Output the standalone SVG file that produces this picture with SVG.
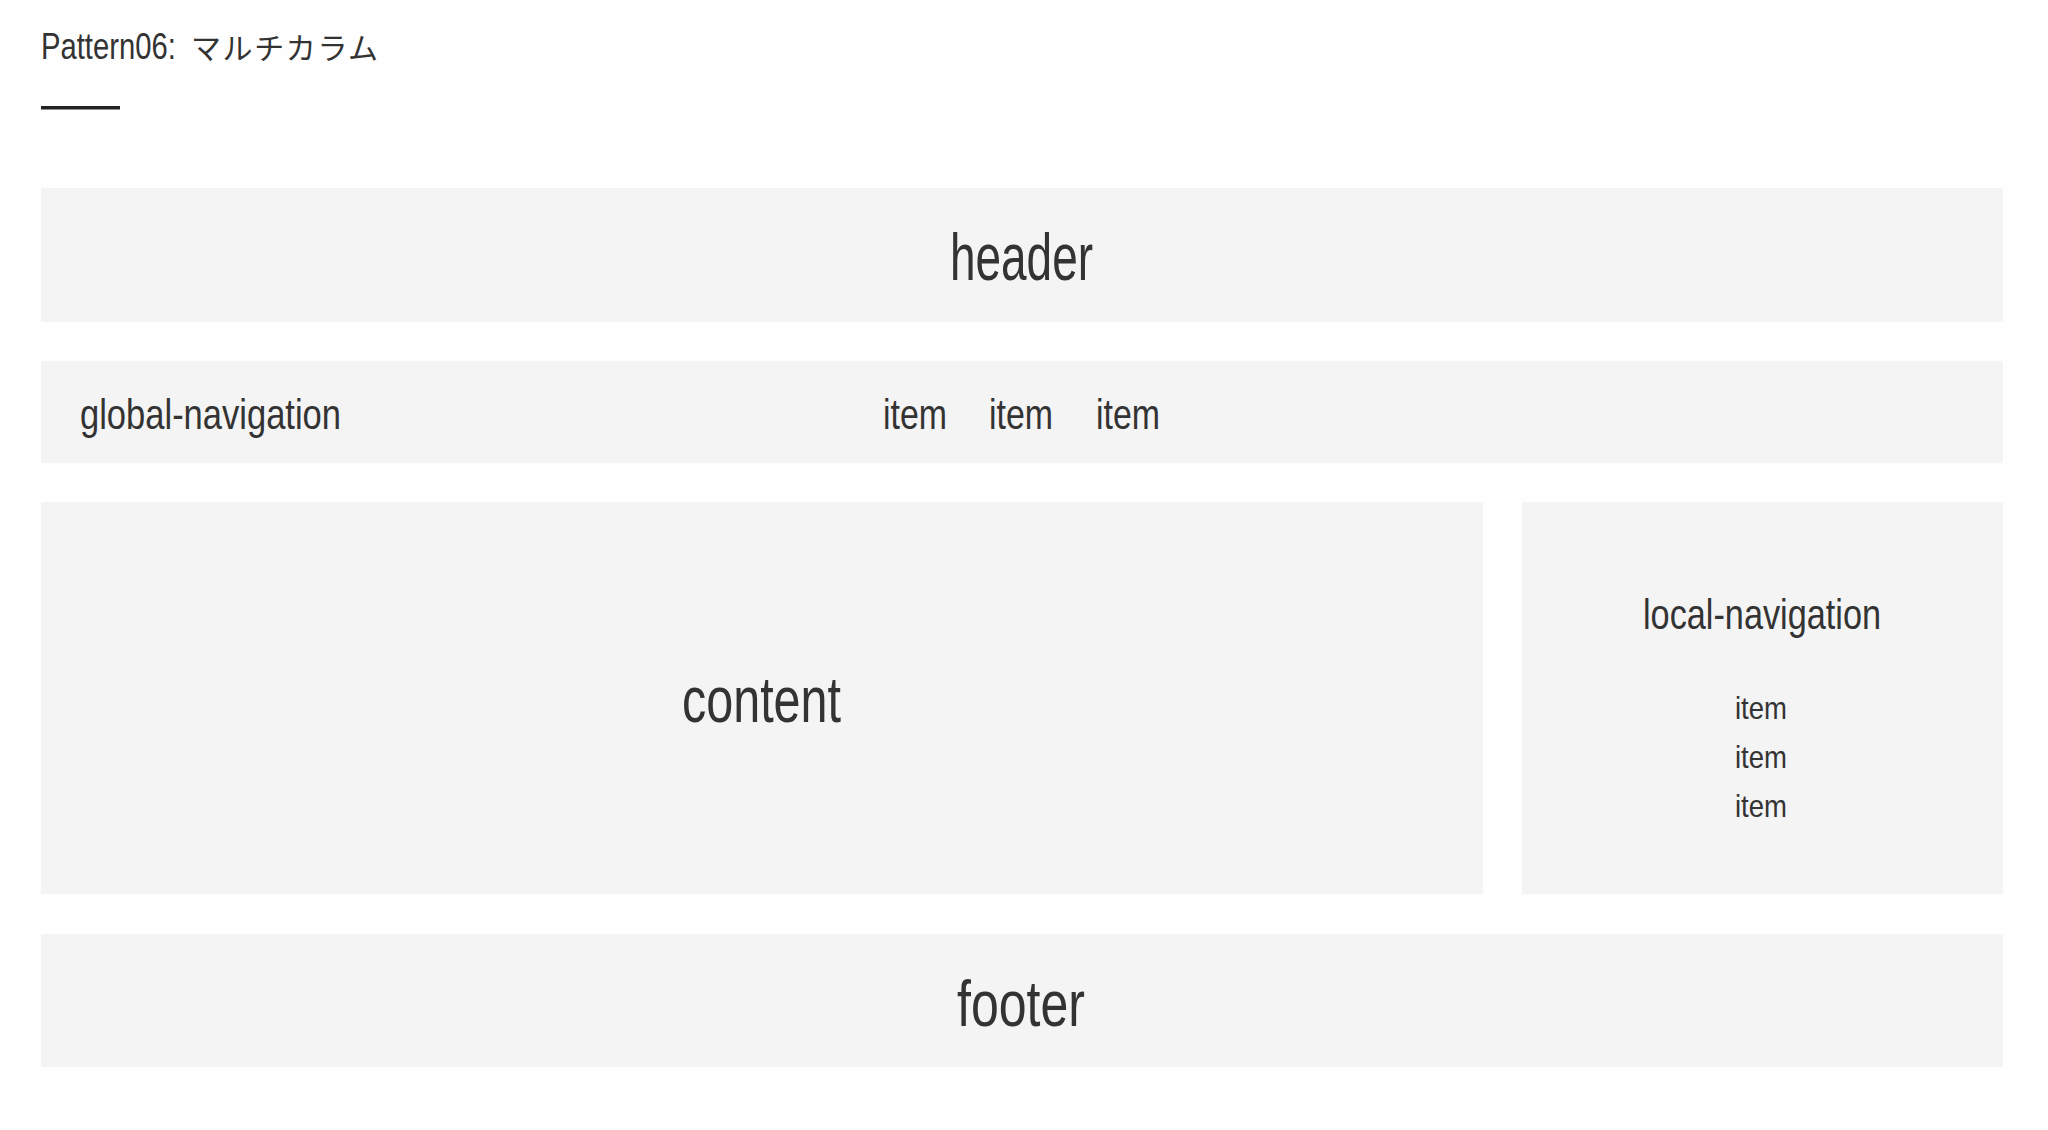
<svg xmlns="http://www.w3.org/2000/svg" width="2048" height="1130" viewBox="0 0 2048 1130">
<style>
.box{fill:#f4f4f4}
.t{font-family:"Liberation Sans","Noto Sans",sans-serif;fill:#333;font-weight:400}
.jp{font-family:"Noto Sans CJK JP","Noto Sans",sans-serif;fill:#333;font-weight:400}
</style>
<rect x="0" y="0" width="2048" height="1130" fill="#fefefe"/>
<g id="title">
<text class="t" transform="translate(41,59) scale(0.79,1)" x="0" y="0" font-size="37">Pattern06:</text>
<text class="jp" x="191" y="59" font-size="30" letter-spacing="1.6">マルチカラム</text>
<rect x="41" y="106" width="79" height="3.5" fill="#222"/>
</g>
<g id="header">
<rect class="box" x="41" y="188" width="1962" height="134"/>
<text class="t" x="950" y="280" font-size="66" textLength="143" lengthAdjust="spacingAndGlyphs">header</text>
</g>
<g id="global-navigation">
<rect class="box" x="41" y="361" width="1962" height="102"/>
<text class="t" x="80" y="429" font-size="42" textLength="261" lengthAdjust="spacingAndGlyphs">global-navigation</text>
<text class="t" x="883" y="429" font-size="42" textLength="64" lengthAdjust="spacingAndGlyphs">item</text>
<text class="t" x="989" y="429" font-size="42" textLength="64" lengthAdjust="spacingAndGlyphs">item</text>
<text class="t" x="1096" y="429" font-size="42" textLength="64" lengthAdjust="spacingAndGlyphs">item</text>
</g>
<g id="content">
<rect class="box" x="41" y="502" width="1442" height="392"/>
<text class="t" x="682" y="722" font-size="64" textLength="159" lengthAdjust="spacingAndGlyphs">content</text>
</g>
<g id="local-navigation">
<rect class="box" x="1522" y="502" width="481" height="392"/>
<text class="t" x="1643" y="629" font-size="43" textLength="238" lengthAdjust="spacingAndGlyphs">local-navigation</text>
<text class="t" x="1735" y="719" font-size="32" textLength="52" lengthAdjust="spacingAndGlyphs">item</text>
<text class="t" x="1735" y="768" font-size="32" textLength="52" lengthAdjust="spacingAndGlyphs">item</text>
<text class="t" x="1735" y="817" font-size="32" textLength="52" lengthAdjust="spacingAndGlyphs">item</text>
</g>
<g id="footer">
<rect class="box" x="41" y="934" width="1962" height="133"/>
<text class="t" x="957" y="1026" font-size="65" textLength="128" lengthAdjust="spacingAndGlyphs">footer</text>
</g>
<g id="connectors"/>
</svg>
